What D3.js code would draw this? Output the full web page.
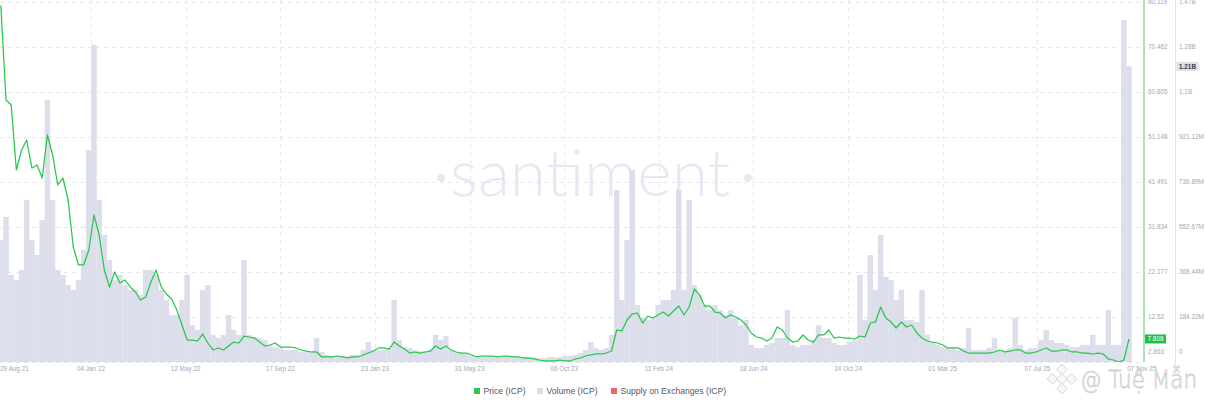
<!DOCTYPE html>
<html><head><meta charset="utf-8">
<script src="https://cdn.jsdelivr.net/npm/d3@7"></script>
<style>body{margin:0;background:#fff;} svg{display:block;}</style>
</head><body><svg id="c" width="1206" height="404"></svg>
<script>
// ---------- DATA ----------
const startDate = "2021-09-04";
const stepDays = 7;
const priceValues = [
79.4, 59.09, 58.01, 44.07, 48.36, 50.50, 44.50, 45.14, 42.35, 51.58,
47.29, 40.85, 42.35, 37.63, 27.54, 23.68, 23.68, 26.90, 34.41, 30.12,
22.61, 18.96, 22.18, 19.82, 20.46, 18.96, 17.89, 16.17, 16.81, 20.03,
22.61, 18.96, 17.46, 16.38, 14.02, 10.80, 7.58, 7.58, 7.37, 8.87,
6.94, 5.44, 5.87, 5.44, 6.30, 7.15, 6.94, 8.44, 8.23, 8.01,
7.15, 6.30, 6.51, 6.94, 6.08, 6.08, 6.08, 5.87, 5.44, 5.22,
5.01, 5.01, 3.94, 3.94, 3.94, 4.15, 3.94, 3.72, 3.94, 3.94,
4.37, 4.79, 5.22, 5.87, 5.87, 5.65, 7.15, 6.30, 5.65, 4.79,
5.01, 4.79, 5.01, 5.22, 6.30, 5.65, 6.30, 5.44, 5.01, 4.79,
4.79, 4.37, 3.94, 4.15, 4.15, 4.15, 3.94, 4.15, 4.15, 3.94,
3.94, 3.72, 3.72, 3.51, 3.29, 3.08, 3.08, 3.08, 3.29, 3.08,
3.08, 3.51, 3.72, 4.15, 4.37, 4.58, 4.58, 4.79, 5.22, 9.73,
9.52, 11.88, 13.16, 13.38, 11.23, 12.73, 12.31, 12.95, 13.59, 12.73,
13.81, 14.88, 12.95, 14.67, 18.53, 17.24, 14.88, 14.88, 13.59, 13.38,
12.31, 12.95, 12.52, 11.88, 10.80, 9.09, 8.23, 8.01, 7.37, 8.01,
10.37, 9.73, 8.01, 7.15, 7.37, 8.66, 7.58, 7.15, 8.66, 8.66,
9.73, 8.01, 8.23, 8.01, 8.01, 7.80, 8.44, 8.23, 11.23, 11.45,
14.67, 12.31, 11.45, 10.16, 11.45, 10.37, 10.80, 9.09, 8.01, 7.37,
7.15, 6.94, 6.51, 5.87, 5.87, 5.87, 5.22, 4.79, 4.79, 4.79,
4.79, 4.79, 5.01, 5.44, 5.01, 5.22, 5.44, 5.44, 4.79, 4.79,
5.01, 5.44, 5.87, 5.22, 5.22, 5.44, 5.44, 5.01, 5.01, 4.79,
4.79, 4.58, 4.79, 4.58, 3.51, 3.29, 2.863, 3.29, 7.808
];
// volume in millions
const volumeValues = [
499, 594, 356, 336, 377, 663, 499, 438, 581, 1073,
663, 377, 356, 315, 295, 336, 459, 868, 1298, 663,
520, 418, 336, 356, 315, 295, 295, 274, 377, 377,
356, 295, 254, 192, 192, 254, 356, 151, 131, 295,
315, 111, 98, 111, 192, 131, 111, 418, 111, 102,
98, 90, 70, 61, 57, 49, 49, 49, 41, 41,
41, 98, 41, 29, 25, 25, 25, 25, 29, 29,
49, 82, 49, 49, 49, 57, 254, 90, 61, 57,
49, 45, 45, 49, 111, 90, 106, 49, 41, 37,
33, 25, 20, 20, 20, 20, 20, 20, 20, 20,
20, 20, 20, 20, 16, 16, 20, 20, 20, 25,
25, 29, 37, 49, 82, 57, 49, 57, 111, 704,
254, 499, 786, 233, 180, 172, 180, 233, 254, 254,
295, 704, 295, 663, 315, 274, 233, 213, 233, 213,
192, 213, 180, 151, 172, 70, 57, 57, 70, 78,
98, 98, 213, 70, 61, 70, 70, 90, 151, 98,
98, 78, 70, 70, 82, 90, 356, 172, 438, 295,
520, 348, 336, 254, 295, 172, 172, 164, 295, 111,
78, 70, 61, 57, 57, 49, 57, 139, 49, 49,
49, 57, 98, 49, 49, 57, 180, 70, 49, 57,
57, 90, 131, 90, 78, 78, 70, 61, 61, 70,
70, 111, 70, 70, 213, 70, 70, 1400, 1210
];
const xTickDates = ["2021-08-29","2022-01-04","2022-05-12","2022-09-17","2023-01-23","2023-05-31","2023-10-06","2024-02-11","2024-06-18","2024-10-24","2025-03-01","2025-07-07","2025-11-07"];
const xTickLabels = ["29 Aug 21","04 Jan 22","12 May 22","17 Sep 22","23 Jan 23","31 May 23","06 Oct 23","11 Feb 24","18 Jun 24","24 Oct 24","01 Mar 25","07 Jul 25","07 Nov 25"];
const priceTicks = [2.863, 12.52, 22.177, 31.834, 41.491, 51.148, 60.805, 70.462, 80.119];
const priceTickLabels = ["2.863","12.52","22.177","31.834","41.491","51.148","60.805","70.462","80.119"];
const volumeTicks = [0, 184.22, 368.44, 552.66, 736.88, 921.1, 1105.32, 1289.54, 1473.76];
const volumeTickLabels = ["0","184.22M","368.44M","552.67M","736.89M","921.12M","1.1B","1.28B","1.47B"];
const legendLabels = ["Price (ICP)","Volume (ICP)","Supply on Exchanges (ICP)"];
const legendColors = ["#2bc64f","#d9dbe8","#f26565"];
const lastPriceLabel = "7.808";
const lastVolumeLabel = "1.21B";

// ---------- CHART ----------
const svg = d3.select("#c");
const parse = d3.utcParse("%Y-%m-%d");
const start = parse(startDate);
const dates = priceValues.map((_, i) => d3.utcDay.offset(start, i * stepDays));

const plotRight = 1143, plotBottom = 362, plotTop = 2;
const x = d3.scaleUtc().domain([parse("2021-08-29"), parse("2025-11-07")]).range([-3.6, 1128.3]);
const yP = d3.scaleLinear().domain([2.863, 80.119]).range([plotBottom, plotTop]);
const yV = d3.scaleLinear().domain([0, 1473.76]).range([plotBottom, plotTop]);

const font = "'Liberation Sans', Arial, sans-serif";

// watermark
const wm = svg.append("g").attr("fill", "#e7e9f2");
wm.append("text").attr("x", 590).attr("y", 196).attr("text-anchor", "middle")
  .attr("font-family", "Lato, 'Open Sans', sans-serif").attr("font-weight", 300)
  .attr("font-size", 66).text("santiment");
wm.append("circle").attr("cx", 441).attr("cy", 178).attr("r", 4);
wm.append("circle").attr("cx", 748).attr("cy", 178).attr("r", 4);

// grid
const grid = svg.append("g").attr("stroke", "#e6e7ee").attr("stroke-dasharray", "4,4").attr("stroke-width", 1);
grid.selectAll("line.h").data(priceTicks).join("line").attr("class", "h")
  .attr("x1", 0).attr("x2", 1140).attr("y1", d => Math.round(yP(d)) + 0.5).attr("y2", d => Math.round(yP(d)) + 0.5);
grid.selectAll("line.v").data(xTickDates.slice(1, -1)).join("line").attr("class", "v")
  .attr("x1", d => Math.round(x(parse(d))) + 0.5).attr("x2", d => Math.round(x(parse(d))) + 0.5)
  .attr("y1", 0).attr("y2", plotBottom);

// clip
svg.append("clipPath").attr("id", "clip").append("rect").attr("x", 0).attr("y", 0).attr("width", plotRight).attr("height", plotBottom);
const plot = svg.append("g").attr("clip-path", "url(#clip)");

// volume bars
const bw = x(dates[1]) - x(dates[0]) + 0.3;
plot.append("g").attr("fill", "#dcdeec").selectAll("rect").data(volumeValues).join("rect")
  .attr("x", (d, i) => x(dates[i]) - bw / 2).attr("width", bw)
  .attr("y", d => yV(d)).attr("height", d => plotBottom - yV(d));

// price line
const line = d3.line().x((d, i) => x(dates[i])).y(d => yP(d)).curve(d3.curveLinear);
plot.append("path").datum(priceValues).attr("d", line).attr("fill", "none")
  .attr("stroke", "#26c84a").attr("stroke-width", 1.25).attr("stroke-linejoin", "round");

// axis lines
svg.append("line").attr("x1", 1144).attr("x2", 1144).attr("y1", 0).attr("y2", plotBottom)
  .attr("stroke", "#a9e5b3").attr("stroke-width", 2);
svg.append("line").attr("x1", 1175.5).attr("x2", 1175.5).attr("y1", 0).attr("y2", plotBottom + 4)
  .attr("stroke", "#e1e3ea").attr("stroke-width", 1);

// price labels
svg.append("g").selectAll("text").data(priceTicks).join("text")
  .attr("x", 1148).attr("y", (d, i) => (i === 0 ? yP(d) - 10 : yP(d)) + 2.2)
  .attr("font-family", font).attr("font-size", 6.4).attr("fill", "#a3a7b3")
  .text((d, i) => priceTickLabels[i]);
// volume labels
svg.append("g").selectAll("text").data(volumeTicks).join("text")
  .attr("x", 1179).attr("y", (d, i) => (i === 0 ? yV(d) - 10 : yV(d)) + 2.2)
  .attr("font-family", font).attr("font-size", 6.4).attr("fill", "#a3a7b3")
  .text((d, i) => volumeTickLabels[i]);

// badges
const lastP = priceValues[priceValues.length - 1];
svg.append("rect").attr("x", 1145).attr("y", yP(lastP) - 4.5).attr("width", 21).attr("height", 9).attr("fill", "#22bf47");
svg.append("text").attr("x", 1155.5).attr("y", yP(lastP) + 2.2).attr("text-anchor", "middle")
  .attr("font-family", font).attr("font-size", 6.4).attr("fill", "#ffffff").text(lastPriceLabel);
const lastV = volumeValues[volumeValues.length - 1];
svg.append("rect").attr("x", 1176.5).attr("y", yV(lastV) - 4.5).attr("width", 22).attr("height", 9).attr("fill", "#dde0ea");
svg.append("text").attr("x", 1187.5).attr("y", yV(lastV) + 2.2).attr("text-anchor", "middle")
  .attr("font-family", font).attr("font-size", 6.4).attr("font-weight", "bold").attr("fill", "#3a3d45").text(lastVolumeLabel);

// x labels
svg.append("g").selectAll("text").data(xTickDates).join("text")
  .attr("x", (d, i) => i === 0 ? 0 : (i === xTickDates.length - 1 ? x(parse(d)) - 1 : x(parse(d))))
  .attr("y", 371)
  .attr("text-anchor", (d, i) => i === 0 || i === xTickDates.length - 1 ? "start" : "middle")
  .attr("font-family", font).attr("font-size", 6.4).attr("fill", "#a3a7b3")
  .text((d, i) => xTickLabels[i]);

// bottom-right watermark
const wm2 = svg.append("g").attr("fill", "#f7f7f8").attr("stroke", "#cfd0d4").attr("stroke-width", 0.8);
const logo = wm2.append("g").attr("transform", "translate(1062,379)");
[[0, -9.5], [-9.5, 0], [9.5, 0], [0, 9.5], [0, 0]].forEach(([dx, dy]) => {
  logo.append("rect").attr("x", dx - 3.8).attr("y", dy - 3.8).attr("width", 7.6).attr("height", 7.6)
    .attr("transform", `rotate(45 ${dx} ${dy})`);
});
wm2.append("text").attr("x", 1080).attr("y", 388).attr("font-family", "'DejaVu Sans', sans-serif")
  .attr("font-weight", 200).attr("font-size", 25)
  .attr("textLength", 117).attr("lengthAdjust", "spacingAndGlyphs").text("@ Tuệ Mẫn");

// legend
const legX = [474, 537, 611];
const lg = svg.append("g");
legendLabels.forEach((t, i) => {
  lg.append("rect").attr("x", legX[i]).attr("y", 388).attr("width", 6).attr("height", 6).attr("fill", legendColors[i]);
  lg.append("text").attr("x", legX[i] + 9.5).attr("y", 394.2).attr("font-family", font)
    .attr("font-size", 8.6).attr("fill", "#545863").text(t);
});
</script></body></html>
